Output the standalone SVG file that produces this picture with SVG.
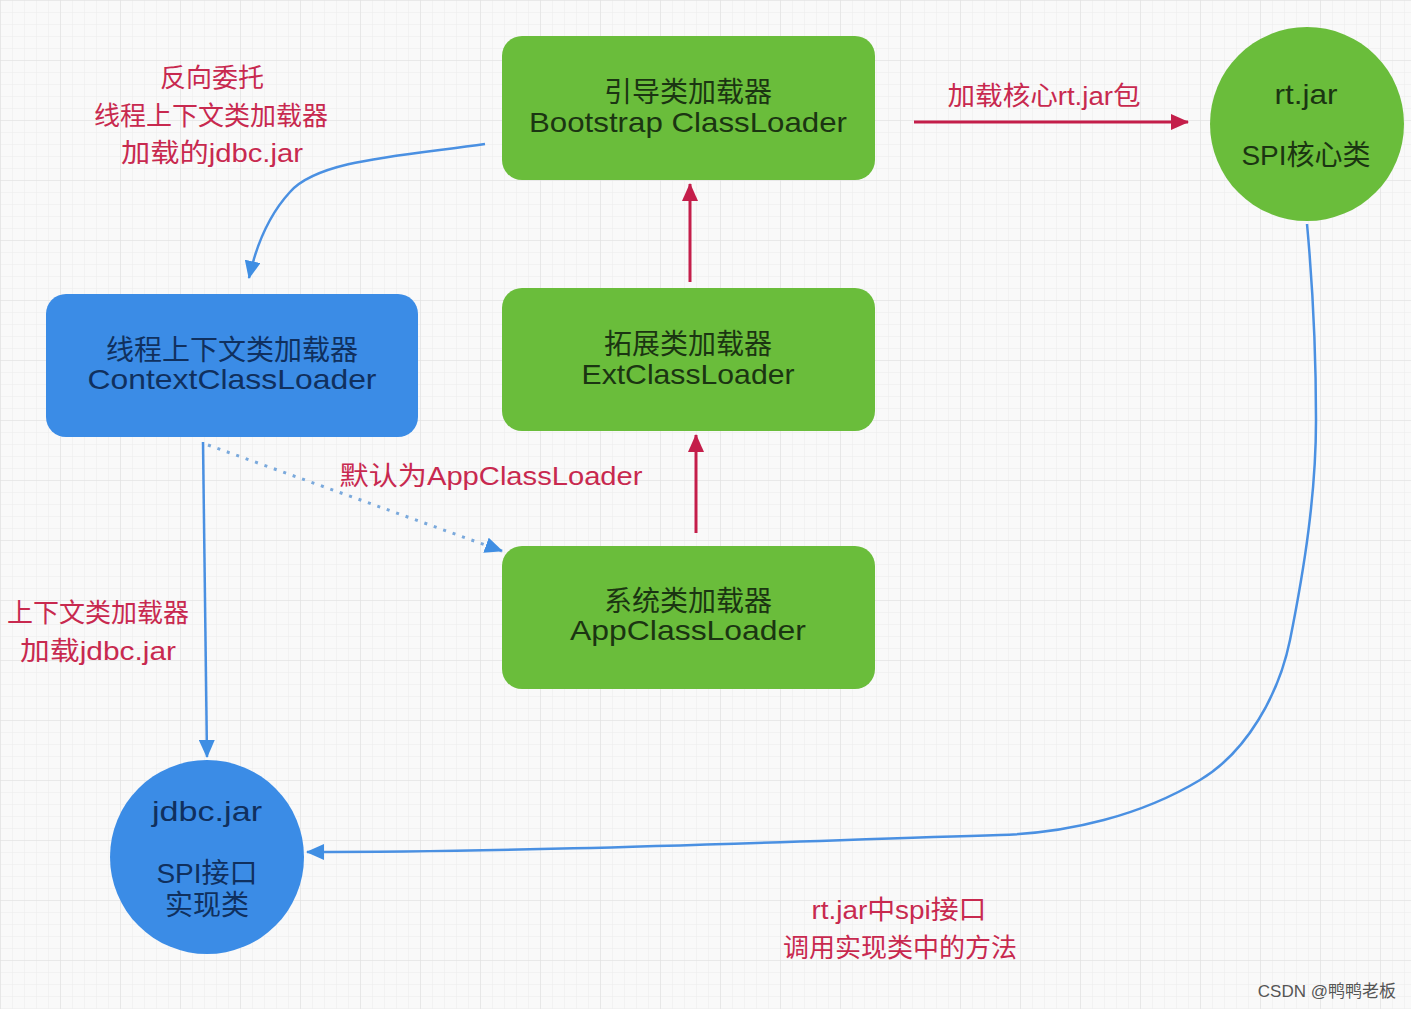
<svg xmlns="http://www.w3.org/2000/svg" width="1411" height="1009" viewBox="0 0 1411 1009">
<defs>
<pattern id="minor" width="12" height="12" patternUnits="userSpaceOnUse">
<path d="M12,0 L0,0 0,12" fill="none" stroke="#ececec" stroke-width="1"/>
</pattern>
<pattern id="major" width="60" height="60" patternUnits="userSpaceOnUse">
<rect width="60" height="60" fill="url(#minor)"/>
<path d="M60,0 L0,0 0,60" fill="none" stroke="#e0e0e0" stroke-width="1.2"/>
</pattern>
<marker id="redHead" markerUnits="userSpaceOnUse" markerWidth="18" markerHeight="16" refX="17" refY="8" orient="auto">
<path d="M0,0 L18,8 L0,16 z" fill="#c41e4a"/>
</marker>
<marker id="blueHead" markerUnits="userSpaceOnUse" markerWidth="18" markerHeight="16" refX="17" refY="8" orient="auto">
<path d="M0,0 L18,8 L0,16 z" fill="#3f8ee3"/>
</marker>
</defs>
<style>
.green{fill:#6abd3b}
.blue{fill:#3b8ce6}
.bt{font-family:"Liberation Sans","Noto Sans CJK SC",sans-serif;font-size:28px;fill:#1b3512;text-anchor:middle}
.bb{font-family:"Liberation Sans","Noto Sans CJK SC",sans-serif;font-size:28px;fill:#10305e;text-anchor:middle}
.lbl{font-family:"Liberation Sans","Noto Sans CJK SC",sans-serif;font-size:26px;fill:#c8294f;text-anchor:middle}
.red{fill:none;stroke:#c41e4a;stroke-width:3}
.bl{fill:none;stroke:#4a90e2;stroke-width:2.5}
.dot{fill:none;stroke:#7aa9dc;stroke-width:3;stroke-dasharray:3 7}
.wm{font-family:"Liberation Sans","Noto Sans CJK SC",sans-serif;font-size:17px;fill:#555;text-anchor:end}
</style>
<rect width="1411" height="1009" fill="#f9f9f9"/>
<rect width="1411" height="1009" fill="url(#major)"/>

<g id="connectors">
<line class="red" x1="690" y1="282" x2="690" y2="184" marker-end="url(#redHead)"/>
<line class="red" x1="696" y1="533" x2="696" y2="435" marker-end="url(#redHead)"/>
<line class="red" x1="914" y1="122" x2="1188" y2="122" marker-end="url(#redHead)"/>
<path class="bl" d="M485,144 C400,156 318,160 290,192 C268,216 256,246 249,278" marker-end="url(#blueHead)"/>
<path class="bl" d="M203,442 L207,757" marker-end="url(#blueHead)"/>
<path class="dot" d="M208,445 L502,551" marker-end="url(#blueHead)"/>
<path class="bl" d="M1307,224 C1313,289 1316,355 1316,420 C1316,494 1304.5,567.5 1290,640 C1279,694 1247,752 1200,780 C1141,815.5 1069,833 1000,835 C769,842 538,852 307,852" marker-end="url(#blueHead)"/>
</g>

<g id="bootstrap">
<rect class="green" x="502" y="36" width="373" height="144" rx="20"/>
<text class="bt" x="688" y="102">引导类加载器</text>
<text class="bt" x="688" y="132" textLength="318" lengthAdjust="spacingAndGlyphs">Bootstrap ClassLoader</text>
</g>
<g id="ext">
<rect class="green" x="502" y="288" width="373" height="143" rx="20"/>
<text class="bt" x="688" y="354">拓展类加载器</text>
<text class="bt" x="688" y="384" textLength="213" lengthAdjust="spacingAndGlyphs">ExtClassLoader</text>
</g>
<g id="app">
<rect class="green" x="502" y="546" width="373" height="143" rx="20"/>
<text class="bt" x="688" y="611">系统类加载器</text>
<text class="bt" x="688" y="640" textLength="236" lengthAdjust="spacingAndGlyphs">AppClassLoader</text>
</g>
<g id="context">
<rect class="blue" x="46" y="294" width="372" height="143" rx="20"/>
<text class="bb" x="232" y="360">线程上下文类加载器</text>
<text class="bb" x="232" y="389" textLength="289" lengthAdjust="spacingAndGlyphs">ContextClassLoader</text>
</g>
<g id="rtjar">
<circle class="green" cx="1307" cy="124" r="97"/>
<text class="bt" x="1306" y="104" textLength="63" lengthAdjust="spacingAndGlyphs">rt.jar</text>
<text class="bt" x="1306" y="165">SPI核心类</text>
</g>
<g id="jdbcjar">
<circle class="blue" cx="207" cy="857" r="97"/>
<text class="bb" x="207" y="821" textLength="110" lengthAdjust="spacingAndGlyphs">jdbc.jar</text>
<text class="bb" x="207" y="883">SPI接口</text>
<text class="bb" x="207" y="915">实现类</text>
</g>

<g id="labels">
<text class="lbl" x="212" y="87">反向委托</text>
<text class="lbl" x="211" y="125">线程上下文类加载器</text>
<text class="lbl" x="212" y="162" textLength="182" lengthAdjust="spacingAndGlyphs">加载的jdbc.jar</text>
<text class="lbl" x="1044" y="105" textLength="193" lengthAdjust="spacingAndGlyphs">加载核心rt.jar包</text>
<text class="lbl" x="491" y="485" textLength="303" lengthAdjust="spacingAndGlyphs">默认为AppClassLoader</text>
<text class="lbl" x="98" y="622">上下文类加载器</text>
<text class="lbl" x="98" y="660" textLength="156" lengthAdjust="spacingAndGlyphs">加载jdbc.jar</text>
<text class="lbl" x="899" y="919" textLength="175" lengthAdjust="spacingAndGlyphs">rt.jar中spi接口</text>
<text class="lbl" x="900" y="957">调用实现类中的方法</text>
</g>
<text class="wm" x="1396" y="997">CSDN @鸭鸭老板</text>
</svg>
